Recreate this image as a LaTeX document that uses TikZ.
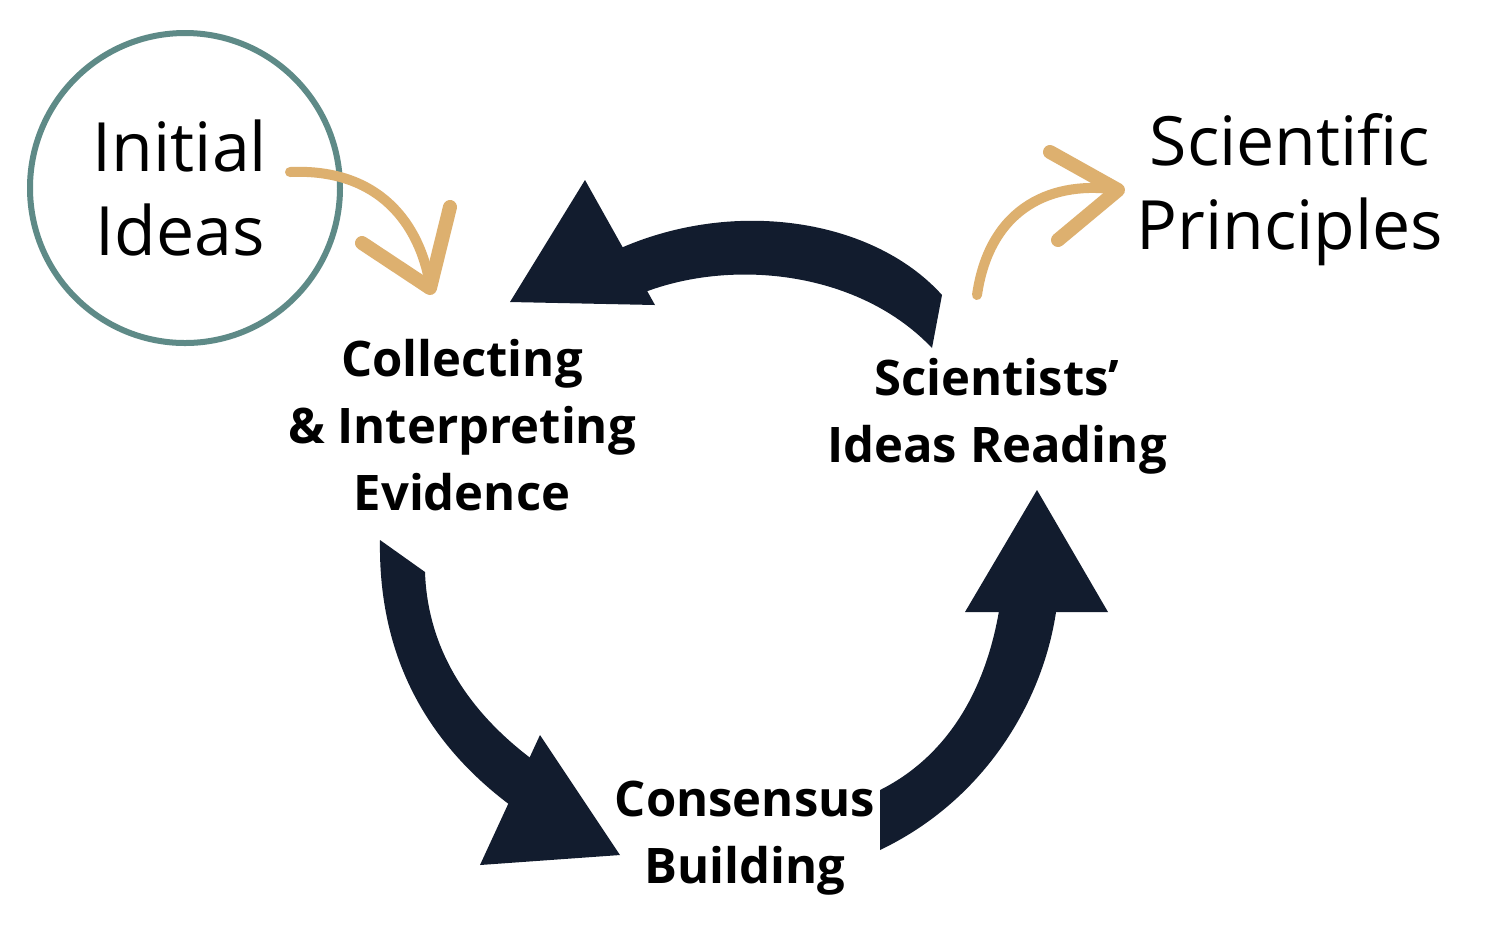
\documentclass[tikz,border=0pt]{standalone}
\usepackage{fontspec}
\setmainfont{Open Sans}
\definecolor{navy}{HTML}{121C2E}
\definecolor{teal}{HTML}{5E8A87}
\definecolor{gold}{HTML}{DDB06F}
\begin{document}
\begin{tikzpicture}[x=0.5pt,y=-0.5pt,
  big/.style={font=\fontsize{34}{42}\selectfont,align=center,inner sep=0},
  lbl/.style={font=\bfseries\fontsize{24.5}{33.5}\selectfont,align=center,inner sep=0},
  goldline/.style={draw=gold,line cap=round,line join=round}]
\useasboundingbox (0,0) rectangle (1500,934);
\fill[white] (0,0) rectangle (1500,934);
% circle
\coordinate (cc) at (185,188);
\draw[teal,line width=3pt] (cc) circle [radius=77.5pt];
\node[big] (init) at (180,188) {Initial\\Ideas};
\node[big] (sci) at (1290,190) {Scientific\\Principles};
\node[lbl] (col) at (462,425) {Collecting\\\& Interpreting\\Evidence};
\node[lbl] (sid) at (997,416) {Scientists’\\Ideas Reading};
\node[lbl] (con) at (745,838) {Consensus\\Building};
% top arrow
\fill[navy] (600,258) .. controls (720,195) and (870,215) .. (942,295) -- (932,348) .. controls (860,272) and (735,258) .. (645,292) -- cycle;
\fill[navy] (585,180) -- (510,302) -- (655,305) -- cycle;
% left arrow
\fill[navy] (380,540) .. controls (378,660) and (430,745) .. (510,805) -- (550,772) .. controls (480,725) and (428,660) .. (425,572) -- cycle;
\fill[navy] (540,735) -- (480,865) -- (620,855) -- cycle;
% right arrow
\fill[navy] (880,850) .. controls (985,800) and (1045,700) .. (1057,605) -- (1000,605) .. controls (985,700) and (940,760) .. (880,790) -- cycle;
\fill[navy] (1037,490) -- (965,612) -- (1108,612) -- cycle;
% gold arrows
\draw[goldline,line width=5pt] (290,172) .. controls (380,168) and (420,225) .. (430,285);
\draw[goldline,line width=7pt] (362,243) -- (430,288) -- (450,207);
\draw[goldline,line width=5pt] (977,295) .. controls (990,205) and (1055,180) .. (1118,190);
\draw[goldline,line width=7pt] (1050,152) -- (1118,190) -- (1058,240);
\end{tikzpicture}
\end{document}
